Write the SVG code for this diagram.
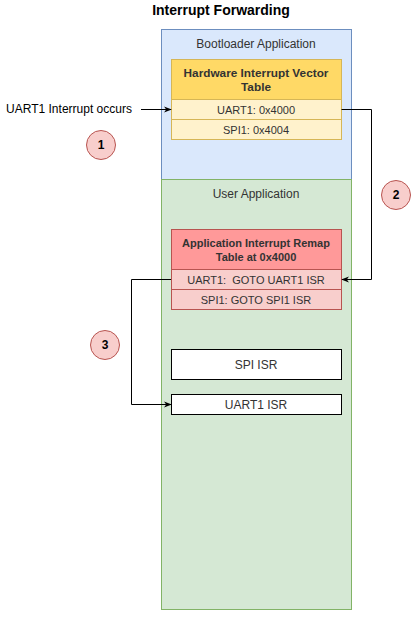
<svg xmlns="http://www.w3.org/2000/svg" width="415" height="618" viewBox="0 0 415 618">
<style>
text{font-family:"Liberation Sans",Arial,sans-serif;font-size:12px;fill:#333;text-anchor:middle;dominant-baseline:central;white-space:pre}
.b{font-weight:bold}
.r{font-size:11px}
.c{fill:none;stroke:#000;stroke-width:1}
.badge{fill:#f8cecc;stroke:#b85450}
</style>
<defs>
<marker id="ah" viewBox="0 0 10 10" refX="9" refY="5" markerWidth="8" markerHeight="8" markerUnits="userSpaceOnUse" orient="auto">
<path d="M0,1 L10,5 L0,9 L3,5 Z" fill="#000"/>
</marker>
</defs>
<rect width="415" height="618" fill="#fff"/>
<text x="221" y="10" class="b" style="font-size:14px;fill:#000">Interrupt Forwarding</text>
<g id="bootloader">
<rect x="161.5" y="29.5" width="190" height="150" fill="#dae8fc" stroke="#6c8ebf"/>
<text x="256" y="44">Bootloader Application</text>
</g>
<g id="userapp">
<rect x="161.5" y="179.5" width="190" height="430" fill="#d5e8d4" stroke="#82b366"/>
<text x="256" y="194">User Application</text>
</g>
<g id="hwtable">
<rect x="171.5" y="59.5" width="170" height="40" fill="#ffd966" stroke="#d6b656"/>
<text x="256" y="73" class="b" style="font-size:11.8px">Hardware Interrupt Vector</text>
<text x="256" y="87" class="b" style="font-size:11.8px">Table</text>
<rect x="171.5" y="99.5" width="170" height="20" fill="#fff2cc" stroke="#d6b656"/>
<text x="256" y="109.5" class="r">UART1: 0x4000</text>
<rect x="171.5" y="119.5" width="170" height="20" fill="#fff2cc" stroke="#d6b656"/>
<text x="256" y="129.5" class="r">SPI1: 0x4004</text>
</g>
<g id="remaptable">
<rect x="171.5" y="229.5" width="170" height="40" fill="#ff9999" stroke="#b85450"/>
<text x="256" y="243" class="b" style="font-size:11px">Application Interrupt Remap</text>
<text x="256" y="257" class="b" style="font-size:11px">Table at 0x4000</text>
<rect x="171.5" y="269.5" width="170" height="20" fill="#f8cecc" stroke="#b85450"/>
<text x="256" y="279.5" class="r" xml:space="preserve">UART1:  GOTO UART1 ISR</text>
<rect x="171.5" y="289.5" width="170" height="20" fill="#f8cecc" stroke="#b85450"/>
<text x="256" y="299.5" class="r">SPI1: GOTO SPI1 ISR</text>
</g>
<g id="spiisr">
<rect x="171.5" y="349.5" width="170" height="30" fill="#fff" stroke="#000"/>
<text x="256" y="364.5">SPI ISR</text>
</g>
<g id="uartisr">
<rect x="171.5" y="394.5" width="170" height="20" fill="#fff" stroke="#000"/>
<text x="256" y="404.5">UART1 ISR</text>
</g>
<g id="label-interrupt">
<text x="69" y="109" style="fill:#000">UART1 Interrupt occurs</text>
</g>
<g id="badge1">
<circle cx="101" cy="145" r="14.5" class="badge"/>
<text x="101" y="145" class="b" style="fill:#000">1</text>
</g>
<g id="badge2">
<circle cx="396" cy="195" r="14.5" class="badge"/>
<text x="396" y="195" class="b" style="fill:#000">2</text>
</g>
<g id="badge3">
<circle cx="105" cy="345" r="14.5" class="badge"/>
<text x="105" y="345" class="b" style="fill:#000">3</text>
</g>
<g id="connectors">
<path class="c" d="M141,109.5 L171,109.5" marker-end="url(#ah)"/>
<path class="c" d="M341.5,109.5 L371.5,109.5 L371.5,279.5 L342,279.5" marker-end="url(#ah)"/>
<path class="c" d="M171,279.5 L131.5,279.5 L131.5,404.5 L171,404.5" marker-end="url(#ah)"/>
</g>
</svg>
